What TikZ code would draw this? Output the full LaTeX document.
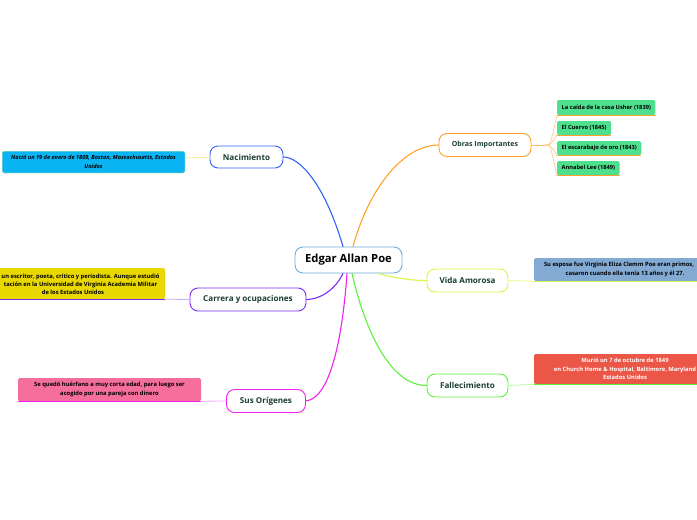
\documentclass[tikz,border=0pt]{standalone}
\usepackage{fontspec}
\setmainfont{Open Sans}
\definecolor{ctrb}{HTML}{6AAEDD}
\definecolor{nacb}{HTML}{2F63F5}
\definecolor{obrb}{HTML}{FFA12A}
\definecolor{carb}{HTML}{7A2CF5}
\definecolor{susb}{HTML}{F020F0}
\definecolor{vidb}{HTML}{D8F545}
\definecolor{falb}{HTML}{5CF03A}
\definecolor{maintext}{HTML}{1B3D33}
\definecolor{cyanleaf}{HTML}{0AB4F2}
\definecolor{yelleaf}{HTML}{E8D800}
\definecolor{pinkleaf}{HTML}{F56E9C}
\definecolor{greenleaf}{HTML}{4EE08E}
\definecolor{blueleaf}{HTML}{82AAD3}
\definecolor{redleaf}{HTML}{EB5646}
\definecolor{paleyel}{HTML}{F4EFA8}
\begin{document}
\begin{tikzpicture}[x=1pt,y=-1pt,
  mainnode/.style={draw, rounded corners=8pt, fill=white, line width=0.9pt,
    font=\fontsize{8.1}{10}\selectfont\bfseries, text=maintext, inner sep=0pt,
    minimum height=23pt},
  leafnode/.style={rounded corners=1.5pt, inner sep=0pt, align=center,
    font=\fontsize{5.8}{8.3}\selectfont\bfseries, text=black},
  workleaf/.style={leafnode, fill=greenleaf, anchor=west, inner xsep=4.5pt,
    minimum height=14pt, font=\fontsize{5.7}{7}\selectfont\bfseries},
  branch/.style={line width=1.1pt, line cap=round},
  thin/.style={line width=0.5pt},
  uline/.style={line width=1pt}
]
\useasboundingbox (0,0) rectangle (697,520);
\clip (0,0) rectangle (697,520);

% central
\node[mainnode, draw=ctrb, text=black, minimum width=107pt, minimum height=26pt,
  font=\fontsize{11.2}{13}\selectfont\bfseries] (c) at (348.5,260) {Edgar Allan Poe};

% main topics
\node[mainnode, draw=nacb, minimum width=73pt, minimum height=22pt] (nac) at (246.5,157) {Nacimiento};
\node[mainnode, draw=carb, minimum width=116pt] (car) at (248,299.5) {Carrera y ocupaciones};
\node[mainnode, draw=susb, minimum width=79pt] (sus) at (266,401) {Sus Orígenes};
\node[mainnode, draw=obrb, minimum width=92pt, font=\fontsize{7}{8}\selectfont\bfseries] (obr) at (485,145) {Obras Importantes};
\node[mainnode, draw=vidb, minimum width=81pt] (vid) at (467.5,280.5) {Vida Amorosa};
\node[mainnode, draw=falb, minimum width=81pt] (fal) at (467.5,385.5) {Fallecimiento};

% leaves
\node[leafnode, fill=cyanleaf, draw=paleyel, thin, minimum width=183pt, minimum height=22pt,
  font=\fontsize{5.6}{8.8}\selectfont\bfseries\itshape] (nacl) at (93.5,162)
  {Nació un 19 de enero de 1809, Boston, Massachusetts, Estados\\Unidos};
\node[leafnode, fill=yelleaf, minimum width=184pt, minimum height=31pt] (carl) at (73,283.5) {};
\node[leafnode] (carlt) at (80.5,284.3)
  {un escritor, poeta, crítico y periodista. Aunque estudió\\tación en la Universidad de Virginia Academia Militar\\de los Estados Unidos\hspace*{15pt}};
\node[leafnode, fill=pinkleaf, minimum width=183pt, minimum height=23pt] (susl) at (109.5,389.5)
  {Se quedó huérfano a muy corta edad, para luego ser\\acogido por una pareja con dinero};
\node[workleaf, minimum height=15pt] (g1) at (557,107.5) {La caída de la casa Usher (1839)};
\node[workleaf] (g2) at (557,128) {El Cuervo (1845)};
\node[workleaf] (g3) at (557,148) {El escarabajo de oro (1843)};
\node[workleaf] (g4) at (557,168) {Annabel Lee (1849)};
\node[leafnode, fill=blueleaf, minimum width=182pt, minimum height=23pt] (vidl) at (625,269.5)
  {Su esposa fue Virginia Eliza Clemm Poe eran primos,\hspace*{12pt}\\casaron cuando ella tenía 13 años y él 27.};
\node[leafnode, fill=redleaf, text=white, minimum width=182pt, minimum height=30pt] (fall) at (625,369)
  {Murió un 7 de octubre de 1849\\en Church Home \& Hospital, Baltimore, Maryland\\Estados Unidos};

% underlines of leaves
\draw[uline, carb] (carl.south west) -- (carl.south east);
\draw[uline, susb] (susl.south west) -- (susl.south east);
\foreach \g in {g1,g2,g3,g4} \draw[uline, obrb] (\g.south west) -- (\g.south east);
\draw[uline, vidb] (vidl.south west) -- (vidl.south east);
\draw[uline, falb] (fall.south west) -- (fall.south east);

% main branches
\draw[branch, nacb] ([xshift=-5.5pt]c.north) .. controls (325,185) and (300,157) .. (nac.east);
\draw[branch, obrb] ([xshift=4.5pt]c.north) .. controls (370,185) and (405,145) .. (obr.west);
\draw[branch, carb] ([xshift=-5.5pt]c.south) .. controls (335,290) and (320,299.5) .. (car.east);
\draw[branch, susb] ([xshift=-1.5pt]c.south) .. controls (343,330) and (332,398) .. (sus.east);
\draw[branch, vidb] ([xshift=29.5pt]c.south) .. controls (395,278) and (410,280.5) .. (vid.west);
\draw[branch, falb] ([xshift=3.5pt]c.south) .. controls (365,330) and (390,385.5) .. (fal.west);

% leaf connectors
\draw[paleyel, line width=0.8pt] (nac.west) -- (nacl.east |- nac.west);
\draw[carb!40, line width=0.8pt] (car.west) -- (carl.south east);
\draw[susb!40, line width=0.8pt] (sus.west) -- (susl.south east);
\draw[vidb!60, line width=0.8pt] (vid.east) -- (vidl.south west);
\draw[falb!40, line width=0.8pt] (fal.east) -- (fall.south west);
\coordinate (fork) at (545,145);
\draw[obrb!70, line width=0.8pt] (obr.east) -- (fork);
\foreach \g in {g1,g2,g3,g4}
  \draw[obrb!60, line width=0.6pt] (fork) .. controls (551,145) and (550,145) .. (\g.south west);
\end{tikzpicture}
\end{document}
